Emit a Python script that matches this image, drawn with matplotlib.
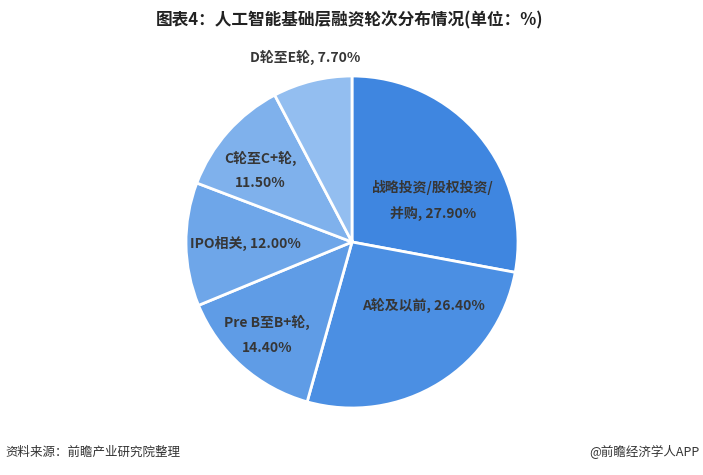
import matplotlib
matplotlib.use("Agg")
import matplotlib.pyplot as plt

plt.rcParams['font.family'] = ['Noto Sans CJK SC', 'DejaVu Sans']

names = ["战略投资/股权投资/\n并购, ", "A轮及以前, ", "Pre B至B+轮,\n", "IPO相关, ", "C轮至C+轮,\n", "D轮至E轮, "]
values = [27.9, 26.4, 14.4, 12.0, 11.5, 7.7]
colors = ["#3f86e0", "#4b8fe3", "#5f9ce6", "#6ea6e9", "#7fb1ec", "#93bef0"]
label_pos = [(0.49, 0.25), (0.43, -0.38), (-0.51, -0.56), (-0.64, -0.01), (-0.55, 0.43), (-0.28, 1.11)]

fig = plt.figure(figsize=(7.03, 4.75), dpi=100)
fig.patch.set_facecolor("white")
# pie center (352,242) radius 166 px
ax = fig.add_axes([(352 - 166) / 703, (475 - 242 - 166) / 475, 332 / 703, 332 / 475])
wedges, _ = ax.pie(values, colors=colors, startangle=90, counterclock=False,
                   wedgeprops=dict(edgecolor="white", linewidth=2))
ax.set_xlim(-1, 1)
ax.set_ylim(-1, 1)
ax.set_aspect('equal')
for n, v, (x, y) in zip(names, values, label_pos):
    ax.text(x, y, f"{n}{v:.2f}%", ha="center", va="center", fontsize=10,
            fontweight="bold", color="#363636", linespacing=1.95, clip_on=False)

fig.text(350 / 703, 1 - 20 / 475, "图表4：人工智能基础层融资轮次分布情况(单位：%)", ha="center", va="center",
         fontsize=12, fontweight="bold", color="#222222")
fig.text(5 / 703, 1 - 452 / 475, "资料来源：前瞻产业研究院整理", ha="left", va="center",
         fontsize=9, color="#333333")
fig.text(700 / 703, 1 - 452 / 475, "@前瞻经济学人APP", ha="right", va="center",
         fontsize=9, color="#333333")

fig.savefig("out.png", dpi=100, facecolor="white")
